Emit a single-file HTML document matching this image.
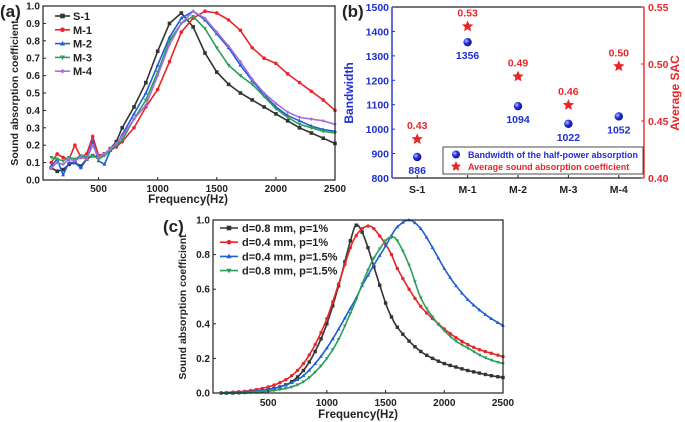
<!DOCTYPE html>
<html><head><meta charset="utf-8"><style>
body{margin:0;background:#fff;}
svg{display:block;font-family:"Liberation Sans",Arial,sans-serif;}
text{font-weight:bold;}
</style></head><body>
<svg id="fig" width="685" height="422" viewBox="0 0 685 422">
<g id="pa"></g>
<g id="pb"></g>
<g id="pc"></g>
</svg>
<script>
// ---------- Panel (a) data ----------
const freqA = [100,150,200,250,300,350,400,450,500,550,600,650,700,800,900,1000,1100,1200,1300,1400,1500,1600,1700,1800,1900,2000,2100,2200,2300,2400,2500];
const aS1 = [0.07,0.05,0.06,0.09,0.10,0.08,0.12,0.14,0.13,0.15,0.18,0.22,0.30,0.42,0.56,0.74,0.90,0.96,0.88,0.73,0.62,0.55,0.50,0.46,0.42,0.38,0.34,0.30,0.27,0.24,0.21];
const aM1 = [0.10,0.15,0.13,0.12,0.20,0.13,0.15,0.25,0.14,0.15,0.17,0.19,0.22,0.30,0.42,0.52,0.68,0.85,0.93,0.97,0.96,0.92,0.86,0.76,0.70,0.67,0.61,0.56,0.51,0.46,0.40];
const aM2 = [0.08,0.12,0.03,0.10,0.10,0.07,0.12,0.22,0.11,0.09,0.17,0.20,0.26,0.38,0.50,0.66,0.82,0.93,0.97,0.92,0.84,0.76,0.66,0.57,0.49,0.42,0.37,0.34,0.31,0.29,0.28];
const aM3 = [0.13,0.12,0.11,0.13,0.12,0.14,0.13,0.14,0.12,0.14,0.17,0.20,0.23,0.35,0.46,0.62,0.80,0.90,0.94,0.87,0.76,0.66,0.60,0.55,0.48,0.41,0.36,0.32,0.30,0.28,0.27];
const aM4 = [0.07,0.10,0.09,0.12,0.11,0.13,0.12,0.20,0.13,0.15,0.18,0.21,0.25,0.35,0.43,0.60,0.78,0.90,0.97,0.93,0.85,0.77,0.68,0.58,0.50,0.44,0.39,0.36,0.35,0.34,0.32];
const namesA = ["S-1","M-1","M-2","M-3","M-4"];
const ticksAX = [500,1000,1500,2000,2500];
const ticksAY = [0,0.1,0.2,0.3,0.4,0.5,0.6,0.7,0.8,0.9,1.0];
// ---------- Panel (b) data ----------
const samplesB = ["S-1","M-1","M-2","M-3","M-4"];
const bandwidthB = [886,1356,1094,1022,1052];
const sacB = [0.434,0.533,0.489,0.464,0.498];
const sacLabelsB = ["0.43","0.53","0.49","0.46","0.50"];
const ticksBL = [800,900,1000,1100,1200,1300,1400,1500];
const ticksBR = [0.40,0.45,0.50,0.55];
// ---------- Panel (c) data ----------
const freqC = [100,200,300,400,500,600,700,800,900,1000,1100,1200,1250,1300,1350,1400,1500,1550,1600,1700,1800,1900,2000,2100,2200,2300,2400,2500];
const c1 = [0,0,0.005,0.01,0.02,0.035,0.065,0.13,0.24,0.40,0.62,0.88,0.97,0.93,0.84,0.73,0.52,0.44,0.38,0.30,0.24,0.20,0.17,0.15,0.13,0.115,0.10,0.09];
const c2 = [0,0.005,0.01,0.02,0.035,0.06,0.10,0.17,0.28,0.43,0.63,0.84,0.91,0.95,0.965,0.95,0.86,0.80,0.72,0.60,0.50,0.43,0.37,0.32,0.28,0.25,0.23,0.21];
const c3 = [0,0,0.005,0.01,0.02,0.035,0.06,0.10,0.17,0.26,0.37,0.49,0.55,0.62,0.68,0.74,0.85,0.91,0.96,1.0,0.95,0.84,0.72,0.62,0.54,0.48,0.43,0.39];
const c4 = [0,0,0,0.005,0.01,0.02,0.035,0.065,0.12,0.20,0.31,0.46,0.54,0.63,0.71,0.78,0.88,0.90,0.88,0.74,0.55,0.44,0.36,0.30,0.26,0.22,0.19,0.17];
const namesC = ["d=0.8 mm, p=1%","d=0.4 mm, p=1%","d=0.4 mm, p=1.5%","d=0.8 mm, p=1.5%"];
const ticksCX = [500,1000,1500,2000,2500];
const ticksCY = [0,0.2,0.4,0.6,0.8,1.0];

const NS="http://www.w3.org/2000/svg";
function mk(parent,tag,attrs,txt){const e=document.createElementNS(NS,tag);for(const k in attrs)e.setAttribute(k,attrs[k]);if(txt!==undefined)e.textContent=txt;parent.appendChild(e);return e;}
function lin(d0,d1,r0,r1){return v=>r0+(v-d0)/(d1-d0)*(r1-r0);}
function marker(g,shape,x,y,s,col){
  let e;
  if(shape==="sq") e=mk(g,"rect",{x:x-s,y:y-s,width:2*s,height:2*s,fill:col});
  else if(shape==="ci") e=mk(g,"circle",{cx:x,cy:y,r:s,fill:col});
  else if(shape==="up") e=mk(g,"polygon",{points:`${x},${y-s*1.2} ${x-s*1.1},${y+s*0.8} ${x+s*1.1},${y+s*0.8}`,fill:col});
  else if(shape==="dn") e=mk(g,"polygon",{points:`${x},${y+s*1.2} ${x-s*1.1},${y-s*0.8} ${x+s*1.1},${y-s*0.8}`,fill:col});
  else if(shape==="st") { const p=[];for(let i=0;i<10;i++){const r=i%2?s*0.45:s;const a=-Math.PI/2+i*Math.PI/5;p.push((x+r*Math.cos(a)).toFixed(1)+","+(y+r*Math.sin(a)).toFixed(1));} e=mk(g,"polygon",{points:p.join(" "),fill:col}); }
  else e=mk(g,"path",{d:`M${x},${y-s}L${x+s},${y}L${x},${y+s}L${x-s},${y}Z`,fill:col});
  
  
  return e;
}
function frame(g,x0,y0,x1,y1,col){
  const r=mk(g,"rect",{x:x0,y:y0,width:x1-x0,height:y1-y0,fill:"none",stroke:col||"#222","stroke-width":1.2});
  
  
}
const colors=["#333333","#e8262a","#1f5fd6","#2aa05a","#a66ee0"];
const shapes=["sq","ci","up","dn","di"];

// ================= Panel (a) =================
(function(){
  const g=document.getElementById("pa");
  const X0=43,X1=335,Y0=6,Y1=180;
  const x=lin(30,2500,X0,X1), y=lin(0,1,Y1,Y0);
  const series=[aS1,aM1,aM2,aM3,aM4];
  series.forEach((s,i)=>{
    const sg=mk(g,"g",{});
    
    
    const pts=freqA.map((f,j)=>x(f).toFixed(1)+","+y(s[j]).toFixed(1)).join(" ");
    const l=mk(sg,"polyline",{points:pts,fill:"none",stroke:colors[i],"stroke-width":1.6});
    
    
    freqA.forEach((f,j)=>marker(sg,shapes[i],x(f),y(s[j]),1.8,colors[i]));
  });
  frame(g,X0,Y0,X1,Y1);
  ticksAX.forEach(t=>{
    const tk=mk(g,"line",{x1:x(t),x2:x(t),y1:Y1,y2:Y1-3,stroke:"#222"});
    
    
    const tl=mk(g,"text",{x:x(t),y:Y1+12,"font-size":10,"text-anchor":"middle",fill:"#222"},String(t));
    
    
  });
  ticksAY.forEach(t=>{
    const tk=mk(g,"line",{x1:X0,x2:X0+3,y1:y(t),y2:y(t),stroke:"#222"});
    
    
    const tl=mk(g,"text",{x:X0-3,y:y(t)+3.5,"font-size":10,"text-anchor":"end",fill:"#222"},t.toFixed(1));
    
    
  });
  const xt=mk(g,"text",{x:188,y:203,"font-size":11.5,"text-anchor":"middle",fill:"#222"},"Frequency(Hz)");
  
  
  const yt=mk(g,"text",{x:0,y:0,"font-size":10.5,"text-anchor":"middle",fill:"#222",transform:"translate(18,93) rotate(-90)"},"Sound absorption coefficient");
  
  
  const pl=mk(g,"text",{x:0,y:17,"font-size":17,fill:"#222","font-weight":"normal"},"(a)");
  
  
  namesA.forEach((n,i)=>{
    const yy=16+i*13.8;
    const lg=mk(g,"g",{});
    
    
    mk(lg,"line",{x1:55,x2:70,y1:yy,y2:yy,stroke:colors[i],"stroke-width":1.6});
    marker(lg,shapes[i],62.5,yy,2.3,colors[i]);
    mk(lg,"text",{x:73,y:yy+4,"font-size":11,fill:"#222"},n);
  });
})();

// ================= Panel (b) =================
(function(){
  const g=document.getElementById("pb");
  const X0=392,X1=644,Y0=7,Y1=178;
  const x=lin(-0.5,4.5,X0,X1), yl=lin(800,1500,Y1,Y0), yr=lin(0.40,0.55,Y1,Y0);
  const blue="#1f2fd0", red="#e8262a";
  mk(g,"line",{x1:X0,x2:X1,y1:Y1,y2:Y1,stroke:"#222","stroke-width":1.2});
  mk(g,"line",{x1:X0,x2:X1,y1:Y0,y2:Y0,stroke:"#222","stroke-width":1.2});
  const la=mk(g,"line",{x1:X0,x2:X0,y1:Y0,y2:Y1,stroke:blue,"stroke-width":1.4});
  
  
  const ra=mk(g,"line",{x1:X1,x2:X1,y1:Y0,y2:Y1,stroke:red,"stroke-width":1.4});
  
  
  ticksBL.forEach(t=>{
    mk(g,"line",{x1:X0,x2:X0+3,y1:yl(t),y2:yl(t),stroke:blue});
    const tl=mk(g,"text",{x:X0-3,y:yl(t)+4,"font-size":10.5,"text-anchor":"end",fill:blue},String(t));
    
    
  });
  ticksBR.forEach(t=>{
    mk(g,"line",{x1:X1,x2:X1-3,y1:yr(t),y2:yr(t),stroke:red});
    const tl=mk(g,"text",{x:X1+4,y:yr(t)+4,"font-size":10.5,"text-anchor":"start",fill:red},t.toFixed(2));
    
    
  });
  samplesB.forEach((s,i)=>{
    mk(g,"line",{x1:x(i),x2:x(i),y1:Y1,y2:Y1-3,stroke:"#222"});
    const tl=mk(g,"text",{x:x(i),y:Y1+15,"font-size":10.5,"text-anchor":"middle",fill:"#222"},s);
    
    
    const c=mk(g,"circle",{cx:x(i),cy:yl(bandwidthB[i]),r:4.2,fill:"url(#ballGrad)"});
    
    
    const bl=mk(g,"text",{x:x(i),y:yl(bandwidthB[i])+17,"font-size":10.5,"text-anchor":"middle",fill:blue,"font-weight":"normal"},String(bandwidthB[i]));
    
    
    const st=marker(g,"st",x(i),yr(sacB[i]),6,red);
    
    const sl=mk(g,"text",{x:x(i),y:yr(sacB[i])-10,"font-size":10.5,"text-anchor":"middle",fill:red,"font-weight":"normal"},sacLabelsB[i]);
    
    
  });
  const defs=mk(document.getElementById("fig"),"defs",{});
  const rg=mk(defs,"radialGradient",{id:"ballGrad",cx:"35%",cy:"35%",r:"65%"});
  mk(rg,"stop",{offset:"0","stop-color":"#b8c4ff"});
  mk(rg,"stop",{offset:"0.5","stop-color":"#2030e0"});
  mk(rg,"stop",{offset:"1","stop-color":"#101890"});
  const lb=mk(g,"g",{});
  
  
  mk(lb,"rect",{x:443,y:147,width:200,height:27,fill:"#fff",stroke:"#222","stroke-width":0.8});
  const l1=mk(lb,"g",{});
  
  
  mk(l1,"circle",{cx:456,cy:154.5,r:4,fill:"url(#ballGrad)"});
  mk(l1,"text",{x:468,y:158,"font-size":9,fill:blue,"font-weight":"normal"},"Bandwidth of the half-power absorption");
  const l2=mk(lb,"g",{});
  
  
  marker(l2,"st",456,166.5,5.5,red);
  mk(l2,"text",{x:468,y:170,"font-size":9,fill:red,"font-weight":"normal"},"Average sound absorption coefficient");
  const yt=mk(g,"text",{x:0,y:0,"font-size":12,"text-anchor":"middle",fill:blue,transform:"translate(353,93) rotate(-90)"},"Bandwidth");
  
  
  const yt2=mk(g,"text",{x:0,y:0,"font-size":12,"text-anchor":"middle",fill:red,transform:"translate(679,93) rotate(-90)"},"Average SAC");
  
  
  const pl=mk(g,"text",{x:342,y:17,"font-size":17,fill:"#222","font-weight":"normal"},"(b)");
  
  
})();

// ================= Panel (c) =================
(function(){
  const g=document.getElementById("pc");
  const X0=213,X1=503,Y0=220,Y1=393;
  const x=lin(30,2500,X0,X1), y=lin(0,1,Y1,Y0);
  const series=[c1,c2,c3,c4];
  const cc=[colors[0],colors[1],colors[2],colors[3]];
  series.forEach((s,i)=>{
    const sg=mk(g,"g",{});
    
    
    const P=freqC.map((f,j)=>[x(f),y(s[j])]);
    let d="M"+P[0][0].toFixed(1)+","+P[0][1].toFixed(1);
    const mpts=[];
    for(let j=0;j<P.length-1;j++){
      const p0=P[Math.max(0,j-1)],p1=P[j],p2=P[j+1],p3=P[Math.min(P.length-1,j+2)];
      const c1x=p1[0]+(p2[0]-p0[0])/6,c1y=p1[1]+(p2[1]-p0[1])/6,c2x=p2[0]-(p3[0]-p1[0])/6,c2y=p2[1]-(p3[1]-p1[1])/6;
      d+=`C${c1x.toFixed(1)},${c1y.toFixed(1)} ${c2x.toFixed(1)},${c2y.toFixed(1)} ${p2[0].toFixed(1)},${p2[1].toFixed(1)}`;
      mpts.push(p1);
      if(p2[0]-p1[0]>8){
        const t=0.5,mt=1-t;
        mpts.push([mt*mt*mt*p1[0]+3*mt*mt*t*c1x+3*mt*t*t*c2x+t*t*t*p2[0], mt*mt*mt*p1[1]+3*mt*mt*t*c1y+3*mt*t*t*c2y+t*t*t*p2[1]]);
      }
    }
    mpts.push(P[P.length-1]);
    const l=mk(sg,"path",{d:d,fill:"none",stroke:cc[i],"stroke-width":1.6});
    
    
    mpts.forEach(p=>marker(sg,shapes[i],p[0],p[1],1.7,cc[i]));
  });
  frame(g,X0,Y0,X1,Y1);
  ticksCX.forEach(t=>{
    mk(g,"line",{x1:x(t),x2:x(t),y1:Y1,y2:Y1-3,stroke:"#222"});
    const tl=mk(g,"text",{x:x(t),y:Y1+13,"font-size":10,"text-anchor":"middle",fill:"#222"},String(t));
    
    
  });
  ticksCY.forEach(t=>{
    mk(g,"line",{x1:X0,x2:X0+3,y1:y(t),y2:y(t),stroke:"#222"});
    const tl=mk(g,"text",{x:X0-3,y:y(t)+3.5,"font-size":10,"text-anchor":"end",fill:"#222"},t.toFixed(1));
    
    
  });
  const xt=mk(g,"text",{x:358,y:418,"font-size":11.5,"text-anchor":"middle",fill:"#222"},"Frequency(Hz)");
  
  
  const yt=mk(g,"text",{x:0,y:0,"font-size":10.5,"text-anchor":"middle",fill:"#222",transform:"translate(186,307) rotate(-90)"},"Sound absorption coefficient");
  
  
  const pl=mk(g,"text",{x:163,y:232,"font-size":17,fill:"#222","font-weight":"normal"},"(c)");
  
  
  namesC.forEach((n,i)=>{
    const yy=228+i*14.2;
    const lg=mk(g,"g",{});
    
    
    mk(lg,"line",{x1:220,x2:238,y1:yy,y2:yy,stroke:cc[i],"stroke-width":1.6});
    marker(lg,shapes[i],229,yy,2.3,cc[i]);
    mk(lg,"text",{x:242,y:yy+4,"font-size":11,fill:"#222"},n);
  });
})();
</script>
</body></html>
